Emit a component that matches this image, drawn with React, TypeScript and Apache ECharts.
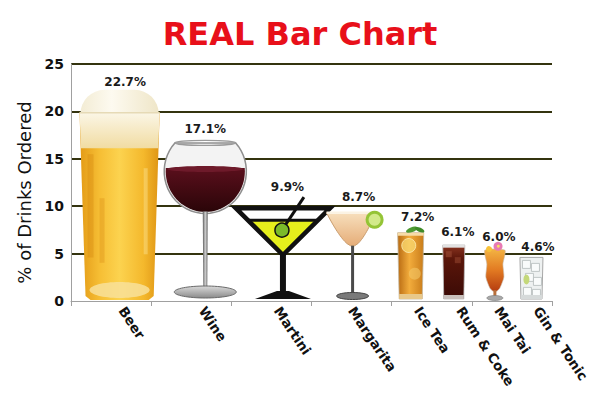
import React, { useEffect, useRef } from "react";
import * as echarts from "echarts";

// ---- data ----
const categories = ["Beer", "Wine", "Martini", "Margarita", "Ice Tea", "Rum & Coke", "Mai Tai", "Gin & Tonic"];
const shares = [22.7, 17.1, 9.9, 8.7, 7.2, 6.1, 6.0, 4.6];
const yTickStep = 5;
const yMax = 25;

// ---- layout (x positions in axis units along a 0..480 slot axis) ----
const SLOT_MAX = 480;
const SLOT_STEP = 80;
const drinkCenters = [48.5, 134, 211.5, 281, 339, 382, 423, 459.5];
const labelAnchors = [51, 131, 206, 280, 346, 388, 426, 465];
const drinkWidths = [80, 82, 94, 52, 26, 22, 22, 23];
const valueLabelDx = [5.5, 0, 4.5, 6, 7, 4, 4, 6.5];
const valueLabelDy = [-4, -10, -20, -22, -16, -11, -7, -10];

const FONT = "DejaVu Sans";
const LG = echarts.graphic.LinearGradient;

type El = any;

function beer(cx: number, top: number, bottom: number, w: number, h: number): El[] {
  const hw = w / 2;
  const rimY = top + 0.125 * h;
  const foamBot = top + 0.29 * h;
  return [
    {
      type: "polygon",
      shape: { points: [[cx - hw, rimY], [cx + hw, rimY], [cx + hw - 6, bottom - 5], [cx + hw - 11, bottom - 1], [cx - hw + 11, bottom - 1], [cx - hw + 6, bottom - 5]] },
      style: { fill: new LG(0, 0, 1, 0, [{ offset: 0, color: "#e39a16" }, { offset: 0.25, color: "#f6be34" }, { offset: 0.5, color: "#fcd34f" }, { offset: 0.8, color: "#f4b82c" }, { offset: 1, color: "#de9414" }]) },
    },
    { type: "rect", shape: { x: cx - hw + 8, y: foamBot + 6, width: 6, height: h * 0.48 }, style: { fill: "#d4860f", opacity: 0.35 } },
    { type: "rect", shape: { x: cx - hw + 20, y: foamBot + 50, width: 5, height: h * 0.3 }, style: { fill: "#d4860f", opacity: 0.3 } },
    { type: "rect", shape: { x: cx + hw - 16, y: foamBot + 20, width: 4, height: h * 0.4 }, style: { fill: "#fff2b0", opacity: 0.35 } },
    { type: "ellipse", shape: { cx, cy: bottom - 11, rx: hw - 10, ry: 8 }, style: { fill: "#f8e09a", opacity: 0.85 } },
    {
      type: "rect",
      shape: { x: cx - hw + 1, y: top + 4, width: w - 2, height: rimY - top + 6, r: [24, 24, 4, 4] },
      style: { fill: new LG(0, 0, 1, 0, [{ offset: 0, color: "#f3ecd4" }, { offset: 0.4, color: "#fdfaf0" }, { offset: 1, color: "#efe6c8" }]) },
    },
    {
      type: "polygon",
      shape: { points: [[cx - hw, rimY], [cx + hw, rimY], [cx + hw - 1.5, foamBot], [cx - hw + 1.5, foamBot]] },
      style: { fill: new LG(0, 0, 0, 1, [{ offset: 0, color: "#fbf6e6" }, { offset: 1, color: "#f1dca2" }]) },
    },
    { type: "line", shape: { x1: cx - hw, y1: rimY, x2: cx + hw, y2: rimY }, style: { stroke: "#e6dab6", lineWidth: 1.5 } },
  ];
}

function ellipseArc(cx: number, cy: number, rx: number, ry: number, yFrom: number, n = 40): number[][] {
  const s = Math.max(-1, Math.min(1, (yFrom - cy) / ry));
  const t0 = Math.asin(s);
  const t1 = Math.PI - t0;
  const pts: number[][] = [];
  for (let k = 0; k <= n; k++) {
    const t = t0 + ((t1 - t0) * k) / n;
    pts.push([cx + rx * Math.cos(t), cy + ry * Math.sin(t)]);
  }
  return pts;
}

function wine(cx: number, top: number, bottom: number, w: number, h: number): El[] {
  const rx = w / 2;
  const rimY = top + 0.025 * h;
  const ecy = top + 0.2 * h;
  const ry = 0.26 * h;
  const wineY = top + 0.18 * h;
  const bowlBot = ecy + ry;
  const rimHalf = rx * Math.cos(Math.asin((rimY - ecy) / ry));
  return [
    { type: "polygon", shape: { points: ellipseArc(cx, ecy, rx, ry, rimY) }, style: { fill: "#f3f3f3", stroke: "#8e8e8e", lineWidth: 1.5 } },
    {
      type: "polygon",
      shape: { points: ellipseArc(cx, ecy, rx - 1.5, ry - 1.5, wineY) },
      style: { fill: new LG(0, 0, 0, 1, [{ offset: 0, color: "#5a0f1c" }, { offset: 1, color: "#2a0508" }]) },
    },
    { type: "ellipse", shape: { cx, cy: wineY + 1, rx: rx - 3, ry: 3 }, style: { fill: "#6e1a2a" } },
    { type: "ellipse", shape: { cx, cy: rimY, rx: rimHalf, ry: 2.5 }, style: { fill: "none", stroke: "#9a9a9a", lineWidth: 1.2 } },
    {
      type: "polygon",
      shape: { points: [[cx - 2.5, bowlBot - 2], [cx + 2.5, bowlBot - 2], [cx + 2, bottom - 9], [cx - 2, bottom - 9]] },
      style: { fill: new LG(0, 0, 1, 0, [{ offset: 0, color: "#5a5a5a" }, { offset: 0.5, color: "#cfcfcf" }, { offset: 1, color: "#6a6a6a" }]) },
    },
    {
      type: "ellipse",
      shape: { cx, cy: bottom - 9, rx: 31, ry: 6 },
      style: { fill: new LG(0, 0, 0, 1, [{ offset: 0, color: "#dadada" }, { offset: 1, color: "#8a8a8a" }]), stroke: "#6a6a6a", lineWidth: 1 },
    },
  ];
}

function martini(cx: number, top: number, bottom: number, w: number, h: number): El[] {
  const hw = w / 2;
  const rimY = top + 1;
  const apexY = top + 0.51 * h;
  const liqY = top + 0.14 * h;
  const lh = (hw * (apexY - liqY)) / (apexY - rimY);
  const oy = top + 0.245 * h;
  return [
    { type: "polygon", shape: { points: [[cx - hw, rimY], [cx + hw, rimY], [cx, apexY]] }, style: { fill: "#ffffff" } },
    { type: "polygon", shape: { points: [[cx - lh, liqY], [cx + lh, liqY], [cx, apexY]] }, style: { fill: "#e6ef1c" } },
    { type: "line", shape: { x1: cx - lh, y1: liqY, x2: cx + lh, y2: liqY }, style: { stroke: "#111", lineWidth: 3 } },
    { type: "line", shape: { x1: cx - 1, y1: oy, x2: cx + 21, y2: top - 10 }, style: { stroke: "#111", lineWidth: 3 } },
    { type: "circle", shape: { cx: cx - 1, cy: oy, r: 7 }, style: { fill: "#7cba2a", stroke: "#111", lineWidth: 1.5 } },
    { type: "polygon", shape: { points: [[cx - hw, rimY], [cx + hw, rimY], [cx, apexY]] }, style: { fill: "none", stroke: "#111", lineWidth: 4.5, lineJoin: "miter" } },
    { type: "rect", shape: { x: cx - 3, y: apexY - 2, width: 6, height: bottom - 9 - apexY + 2 }, style: { fill: "#111" } },
    { type: "polygon", shape: { points: [[cx - 28, bottom - 2], [cx + 28, bottom - 2], [cx + 6, bottom - 10], [cx - 6, bottom - 10]] }, style: { fill: "#111" } },
  ];
}

function margarita(cx: number, top: number, bottom: number, w: number, h: number): El[] {
  const hw = w / 2;
  const rimY = top - 0.07 * h;
  const apexY = top + 0.33 * h;
  const left: number[][] = [];
  const right: number[][] = [];
  const n = 16;
  for (let k = 0; k <= n; k++) {
    const s = k / n;
    const half = 2 + (hw - 2) * Math.pow(1 - s, 0.7);
    const y = rimY + (apexY - rimY) * s;
    left.push([cx - half, y]);
    right.unshift([cx + half - 3 * (1 - s), y]);
  }
  return [
    {
      type: "polygon",
      shape: { points: left.concat(right) },
      style: { fill: new LG(0, 0, 0, 1, [{ offset: 0, color: "#f7dfbd" }, { offset: 1, color: "#e6ad78" }]), stroke: "#c99c6c", lineWidth: 1 },
    },
    { type: "line", shape: { x1: cx - hw, y1: rimY, x2: cx + hw - 3, y2: rimY }, style: { stroke: "#fbf3e4", lineWidth: 2.5 } },
    { type: "circle", shape: { cx: cx + 22, cy: rimY + 7, r: 9 }, style: { fill: "#94c436" } },
    { type: "circle", shape: { cx: cx + 22, cy: rimY + 7, r: 6 }, style: { fill: "#d2ea8a" } },
    { type: "line", shape: { x1: cx, y1: apexY, x2: cx, y2: bottom - 6 }, style: { stroke: "#4a4a4a", lineWidth: 3 } },
    { type: "ellipse", shape: { cx, cy: bottom - 5, rx: 16, ry: 3.5 }, style: { fill: "#7a7a7a", stroke: "#444", lineWidth: 1 } },
  ];
}

function iceTea(cx: number, top: number, bottom: number, w: number, h: number): El[] {
  const hw = w / 2;
  return [
    {
      type: "polygon",
      shape: { points: [[cx - hw, top], [cx + hw, top], [cx + hw - 1.5, bottom - 2], [cx - hw + 1.5, bottom - 2]] },
      style: { fill: new LG(0, 0, 1, 0, [{ offset: 0, color: "#b86a12" }, { offset: 0.45, color: "#f2ac3c" }, { offset: 1, color: "#c97c1a" }]), stroke: "#c4b8a0", lineWidth: 0.8 },
    },
    { type: "rect", shape: { x: cx - hw, y: top, width: w, height: 3 }, style: { fill: "#f6dca8" } },
    { type: "circle", shape: { cx: cx - 2, cy: top + 12, r: 7 }, style: { fill: "#f8d870", opacity: 0.75, stroke: "#fff0b8", lineWidth: 1 } },
    { type: "circle", shape: { cx: cx + 4, cy: top + 40, r: 6 }, style: { fill: "#f4c666", opacity: 0.6 } },
    { type: "rect", shape: { x: cx - hw + 1.5, y: bottom - 7, width: w - 3, height: 5 }, style: { fill: "#e8c88a" } },
    { type: "ellipse", x: cx + 1, y: top - 3, rotation: 0.35, shape: { cx: 0, cy: 0, rx: 6, ry: 2.5 }, style: { fill: "#4f9a32" } },
    { type: "ellipse", x: cx + 9, y: top - 3, rotation: -0.4, shape: { cx: 0, cy: 0, rx: 5, ry: 2.2 }, style: { fill: "#3f8a28" } },
  ];
}

function rumCoke(cx: number, top: number, bottom: number, w: number, h: number): El[] {
  const hw = w / 2;
  return [
    {
      type: "polygon",
      shape: { points: [[cx - hw, top + 2], [cx + hw, top + 2], [cx + hw - 1, bottom - 2], [cx - hw + 1, bottom - 2]] },
      style: { fill: new LG(0, 0, 0, 1, [{ offset: 0, color: "#8a3420" }, { offset: 0.25, color: "#5a160a" }, { offset: 1, color: "#3a0a06" }]), stroke: "#bbbbbb", lineWidth: 0.8 },
    },
    { type: "rect", shape: { x: cx - hw, y: top + 1, width: w, height: 3.5 }, style: { fill: "#e2e2e2" } },
    { type: "rect", shape: { x: cx - hw + 3, y: top + 8, width: 6, height: 6 }, style: { fill: "#a4523a", opacity: 0.5 } },
    { type: "rect", shape: { x: cx + 1, y: top + 14, width: 6, height: 6 }, style: { fill: "#a4523a", opacity: 0.45 } },
    { type: "rect", shape: { x: cx - hw + 1, y: bottom - 6, width: w - 2, height: 4 }, style: { fill: "#c8c0bc" } },
  ];
}

function maiTai(cx: number, top: number, bottom: number, w: number, h: number): El[] {
  const hw = w / 2;
  const t = top + 6;
  return [
    {
      type: "polygon",
      shape: {
        points: [[cx - hw + 1, t], [cx + hw - 1, t], [cx + hw - 3, t + 14], [cx + hw - 2, t + 27], [cx + 5, t + 38], [cx + 2, t + 41], [cx - 2, t + 41], [cx - 5, t + 38], [cx - hw + 2, t + 27], [cx - hw + 3, t + 14]],
        smooth: 0.2,
      },
      style: { fill: new LG(0, 0, 0, 1, [{ offset: 0, color: "#f3b443" }, { offset: 0.5, color: "#e27a22" }, { offset: 1, color: "#b53c10" }]), stroke: "#c8b8a8", lineWidth: 0.6 },
    },
    { type: "rect", shape: { x: cx - 1.5, y: t + 40, width: 3, height: bottom - 4 - (t + 40) }, style: { fill: "#b8703c" } },
    { type: "ellipse", shape: { cx, cy: bottom - 3, rx: 8, ry: 2.5 }, style: { fill: "#a8a8a8", stroke: "#777", lineWidth: 0.6 } },
    { type: "circle", shape: { cx: cx - 6, cy: t - 2, r: 3 }, style: { fill: "#f7c23a" } },
    { type: "circle", shape: { cx: cx + 3, cy: t - 5, r: 4.5 }, style: { fill: "#e77ab4" } },
    { type: "circle", shape: { cx: cx + 3, cy: t - 5, r: 1.5 }, style: { fill: "#f8e060" } },
  ];
}

function ginTonic(cx: number, top: number, bottom: number, w: number, h: number): El[] {
  const hw = w / 2;
  const cubes = [[-9, 3], [0, 6], [-6, 16], [2, 20], [-8, 30], [1, 32]];
  const els: El[] = [
    {
      type: "polygon",
      shape: { points: [[cx - hw, top], [cx + hw, top], [cx + hw - 1, bottom - 2], [cx - hw + 1, bottom - 2]] },
      style: { fill: "#eef1f1", stroke: "#a8a8a8", lineWidth: 1 },
    },
  ];
  cubes.forEach(([dx, dy]) => {
    els.push({ type: "rect", shape: { x: cx + dx, y: top + dy, width: 8, height: 8 }, style: { fill: "#f9fbfb", stroke: "#b4baba", lineWidth: 0.8 } });
  });
  els.push({ type: "ellipse", shape: { cx: cx - 5, cy: top + 22, rx: 3, ry: 5 }, style: { fill: "#c4d87a" } });
  els.push({ type: "rect", shape: { x: cx - hw + 1, y: bottom - 6, width: w - 2, height: 4 }, style: { fill: "#d6dada" } });
  return els;
}

const drawers = [beer, wine, martini, margarita, iceTea, rumCoke, maiTai, ginTonic];

export default function App() {
  const ref = useRef<HTMLDivElement>(null);
  useEffect(() => {
    if (!ref.current) return;
    const chart = echarts.init(ref.current, undefined, { renderer: "svg" });
    chart.setOption({
      animation: false,
      backgroundColor: "#ffffff",
      title: {
        text: "REAL Bar Chart",
        left: "center",
        top: 13,
        textStyle: { color: "#e8101a", fontSize: 32, fontWeight: "bold", fontFamily: FONT },
      },
      grid: { left: 71, top: 64, width: 481, height: 237, containLabel: false },
      xAxis: {
        type: "value",
        min: 0,
        max: SLOT_MAX,
        interval: SLOT_STEP,
        axisLine: { show: true, lineStyle: { color: "#a0a0a0", width: 1 } },
        axisTick: { show: true, length: 5, lineStyle: { color: "#a0a0a0" } },
        splitLine: { show: false },
        axisLabel: {
          customValues: labelAnchors,
          formatter: (v: number) => {
            const i = labelAnchors.indexOf(v);
            return i >= 0 ? categories[i] : "";
          },
          rotate: -56,
          margin: 7,
          fontFamily: FONT,
          fontWeight: "bold",
          fontSize: 13.5,
          color: "#111",
        },
      },
      yAxis: {
        type: "value",
        min: 0,
        max: yMax,
        interval: yTickStep,
        axisLine: { show: true, lineStyle: { color: "#a0a0a0", width: 1 } },
        axisTick: { show: false },
        splitLine: { show: true, showMinLine: false, lineStyle: { color: "#34340f", width: 2 } },
        axisLabel: { fontFamily: FONT, fontWeight: "bold", fontSize: 14, color: "#111", margin: 7 },
        name: "% of Drinks Ordered",
        nameLocation: "middle",
        nameGap: 38,
        nameTextStyle: { fontFamily: FONT, fontSize: 18, color: "#111", padding: [0, 20, 0, 0] },
      },
      series: [
        {
          type: "custom",
          clip: false,
          z: 3,
          encode: { x: 0, y: 1 },
          data: drinkCenters.map((c, i) => [c, shares[i]]),
          renderItem: (params: any, api: any) => {
            const i = params.dataIndex;
            const x = api.value(0);
            const v = api.value(1);
            const p = api.coord([x, v]);
            const b = api.coord([x, 0]);
            const ux = api.size([1, 0])[0];
            const w = drinkWidths[i] * ux;
            const cx = p[0];
            const top = p[1];
            const bottom = b[1];
            const h = bottom - top;
            const children = drawers[i](cx, top, bottom, w, h);
            children.push({
              type: "text",
              x: cx + valueLabelDx[i] * ux,
              y: top + valueLabelDy[i],
              style: {
                text: shares[i].toFixed(1) + "%",
                fill: "#1a1a1a",
                fontSize: 12,
                fontWeight: "bold",
                fontFamily: FONT,
                align: "center",
                verticalAlign: "middle",
              },
            });
            return { type: "group", children };
          },
        },
      ],
    });
    return () => chart.dispose();
  }, []);
  return <div ref={ref} style={{ position: "absolute", left: 0, top: 0, width: 600, height: 410, background: "#fff" }} />;
}
